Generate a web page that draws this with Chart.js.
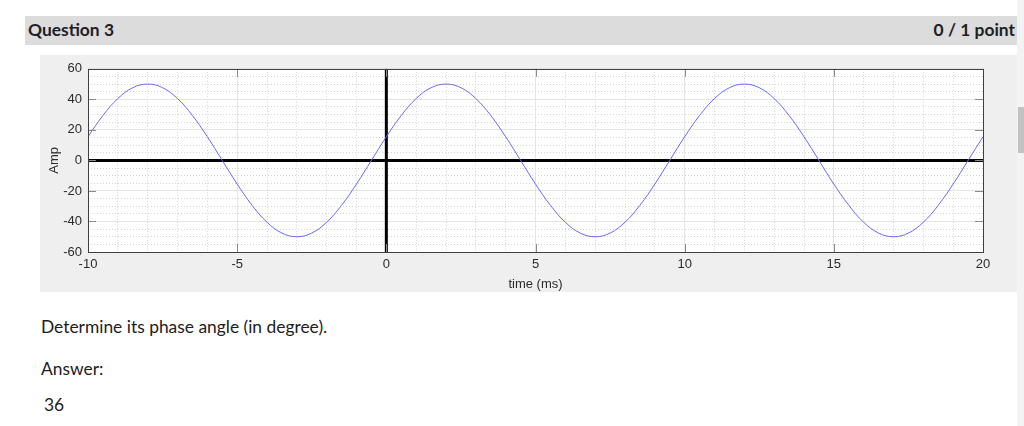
<!DOCTYPE html>
<html>
<head>
<meta charset="utf-8">
<script src="https://cdn.jsdelivr.net/npm/chart.js@4"></script>
<style>
  body { margin: 0; background: #fff; width: 1024px; height: 426px; overflow: hidden; position: relative; font-family: Lato, "Noto Sans", sans-serif; color: #1d2125; }
  #head { position: absolute; left: 25px; top: 16px; width: 992px; height: 29px; background: #dcdcdc; }
  #qname { position: absolute; left: 3px; top: 3px; font-weight: bold; font-size: 17.4px; }
  #grade { position: absolute; right: 2px; top: 3px; font-weight: bold; font-size: 17.4px; }
  #panel { position: absolute; left: 40px; top: 55px; width: 977px; height: 237px; background: #efefef; }
  #box { position: absolute; left: 40px; top: 55px; width: 960px; height: 237px; }
  #track { position: absolute; left: 1017px; top: 0; width: 7px; height: 426px; background: #f3f3f3; }
  #thumb { position: absolute; left: 1018px; top: 107px; width: 6px; height: 46px; background: #c2c2c2; }
  .txt { position: absolute; font-size: 17.4px; }
</style>
</head>
<body>
<div id="track"></div>
<div id="thumb"></div>
<div id="head"><span id="qname">Question 3</span><span id="grade">0 / 1 point</span></div>
<div id="panel"></div>
<div id="box"><canvas id="myChart"></canvas></div>
<div class="txt" style="left:41px; top:316px;">Determine its phase angle (in degree).</div>
<div class="txt" style="left:41px; top:358px;">Answer:</div>
<div class="txt" style="left:44px; top:394px;">36</div>
<script>
const timeMs = [-10, -9.5, -9, -8.5, -8, -7.5, -7, -6.5, -6, -5.5,
    -5, -4.5, -4, -3.5, -3, -2.5, -2, -1.5, -1, -0.5,
    0, 0.5, 1, 1.5, 2, 2.5, 3, 3.5, 4, 4.5,
    5, 5.5, 6, 6.5, 7, 7.5, 8, 8.5, 9, 9.5,
    10, 10.5, 11, 11.5, 12, 12.5, 13, 13.5, 14, 14.5,
    15, 15.5, 16, 16.5, 17, 17.5, 18, 18.5, 19, 19.5, 20];
const amp = [15.5, 29.4, 40.5, 47.6, 50, 47.6, 40.5, 29.4, 15.5, 0,
    -15.5, -29.4, -40.5, -47.6, -50, -47.6, -40.5, -29.4, -15.5, 0,
    15.5, 29.4, 40.5, 47.6, 50, 47.6, 40.5, 29.4, 15.5, 0,
    -15.5, -29.4, -40.5, -47.6, -50, -47.6, -40.5, -29.4, -15.5, 0,
    15.5, 29.4, 40.5, 47.6, 50, 47.6, 40.5, 29.4, 15.5, 0,
    -15.5, -29.4, -40.5, -47.6, -50, -47.6, -40.5, -29.4, -15.5, 0, 15.5];
const xAxisLine = [{ x: -10, y: 0 }, { x: 20, y: 0 }];
const yAxisLine = [{ x: 0, y: -60 }, { x: 0, y: 60 }];
const xRange = [-10, 20];
const yRange = [-60, 60];
const xLabel = "time (ms)";
const yLabel = "Amp";

const tickFont = { family: "'Liberation Sans', Arial, sans-serif", size: 13 };
const tickColor = "#2b2b2b";

// white plot background, box and inward tick marks (matlab style)
const axesBox = {
    id: "axesBox",
    beforeDraw(chart) {
        const a = chart.chartArea;
        chart.ctx.save();
        chart.ctx.fillStyle = "#fff";
        chart.ctx.fillRect(a.left, a.top, a.right - a.left, a.bottom - a.top);
        chart.ctx.restore();
    },
    afterDraw(chart) {
        const ctx = chart.ctx;
        const a = chart.chartArea;
        ctx.save();
        ctx.strokeStyle = "#8a8a8a";
        ctx.lineWidth = 1;
        chart.scales.x.ticks.forEach(t => {
            const px = Math.round(chart.scales.x.getPixelForValue(t.value)) + 0.5;
            ctx.beginPath();
            ctx.moveTo(px, a.top); ctx.lineTo(px, a.top + 8);
            ctx.moveTo(px, a.bottom); ctx.lineTo(px, a.bottom - 8);
            ctx.stroke();
        });
        chart.scales.y.ticks.forEach(t => {
            const py = Math.round(chart.scales.y.getPixelForValue(t.value)) + 0.5;
            ctx.beginPath();
            ctx.moveTo(a.left, py); ctx.lineTo(a.left + 8, py);
            ctx.moveTo(a.right, py); ctx.lineTo(a.right - 8, py);
            ctx.stroke();
        });
        ctx.strokeStyle = "#404040";
        ctx.strokeRect(Math.round(a.left) + 0.5, Math.round(a.top) + 0.5, Math.round(a.right - a.left), Math.round(a.bottom - a.top));
        ctx.restore();
    }
};

const ctx = document.getElementById("myChart").getContext("2d");
const myChart = new Chart(ctx, {
    type: "line",
    data: {
        datasets: [
            {
                data: timeMs.map((t, i) => ({ x: t, y: amp[i] })),
                borderColor: "#6a6aff",
                borderWidth: 1,
                pointRadius: 0,
                tension: 0.4
            },
            { data: xAxisLine, borderColor: "#000", borderWidth: 3, pointRadius: 0 },
            { data: yAxisLine, borderColor: "#000", borderWidth: 3, pointRadius: 0 }
        ]
    },
    options: {
        responsive: true,
        maintainAspectRatio: false,
        animation: false,
        devicePixelRatio: 1,
        layout: { padding: { top: 12, right: 17, left: 0, bottom: 0 } },
        plugins: { legend: { display: false }, tooltip: { enabled: false } },
        scales: {
            xm: {
                type: "linear", position: "bottom", min: xRange[0], max: xRange[1],
                ticks: { display: false, stepSize: 1 },
                grid: { color: "#d4d4d4", drawTicks: false },
                border: { display: false, dash: [1, 2] },
                afterFit(s) { s.height = 0; }
            },
            ym: {
                type: "linear", position: "left", min: yRange[0], max: yRange[1],
                ticks: { display: false, stepSize: 5 },
                grid: { color: "#d4d4d4", drawTicks: false },
                border: { display: false, dash: [1, 2] },
                afterFit(s) { s.width = 0; }
            },
            x: {
                type: "linear", position: "bottom", min: xRange[0], max: xRange[1],
                ticks: { stepSize: 5, padding: 5, color: tickColor, font: tickFont, maxRotation: 0 },
                grid: { color: "#e4e4e4", drawTicks: false },
                border: { display: false },
                title: { display: true, text: xLabel, color: tickColor, font: tickFont, padding: { top: 0, bottom: 0 } },
                afterFit(s) { s.height = 40; }
            },
            y: {
                type: "linear", position: "left", min: yRange[0], max: yRange[1],
                ticks: { stepSize: 20, padding: 6, color: tickColor, font: tickFont },
                grid: { color: "#e4e4e4", drawTicks: false },
                border: { display: false },
                title: { display: true, text: yLabel, color: tickColor, font: tickFont, padding: { top: 7, bottom: 0 } },
                afterFit(s) { s.width = 48; }
            }
        }
    },
    plugins: [axesBox]
});
</script>
</body>
</html>
